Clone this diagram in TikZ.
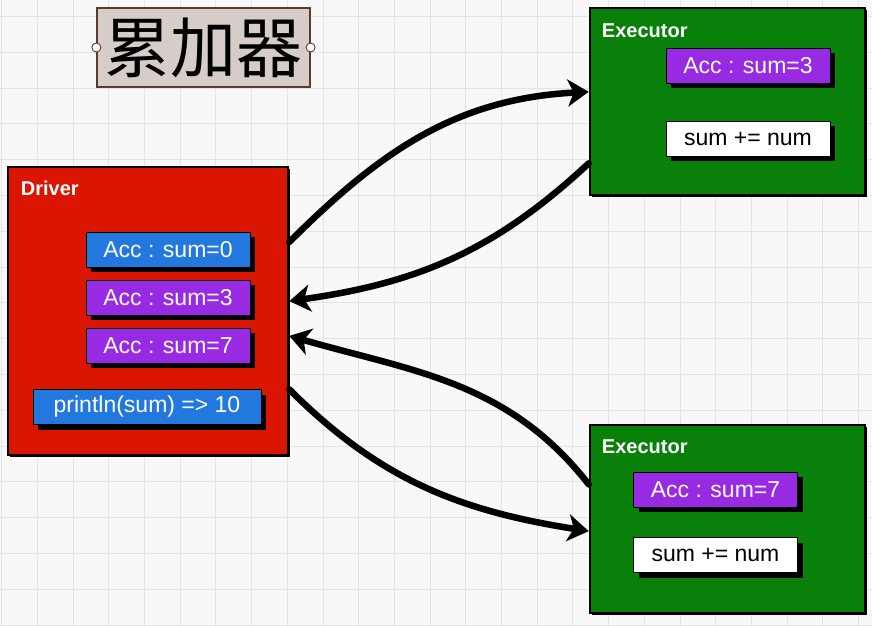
\documentclass[tikz,border=0pt]{standalone}
\usepackage{fontspec}
\setmainfont{Liberation Sans}
\newfontfamily\cjk{Noto Sans CJK SC}
\usetikzlibrary{arrows.meta,positioning,shadows}

\definecolor{drvred}{RGB}{218,22,0}
\definecolor{exgreen}{RGB}{8,128,10}
\definecolor{accblue}{RGB}{34,120,222}
\definecolor{accpurple}{RGB}{152,42,228}
\definecolor{titlefill}{RGB}{214,205,200}
\definecolor{titleline}{RGB}{95,55,45}
\definecolor{paper}{RGB}{248,248,248}
\definecolor{gridgray}{RGB}{228,228,228}

\tikzset{
  gridln/.style={draw=gridgray, line width=1pt},
  titlebox/.style={draw=titleline, fill=titlefill, line width=1.2pt, minimum width=213pt,
    minimum height=79pt, inner sep=0pt, font=\cjk\fontsize{66}{68}\selectfont},
  handle/.style={circle, draw=titleline, fill=white, line width=0.9pt, inner sep=0pt, minimum size=9pt},
  panel/.style={draw=black, line width=2.5pt, inner sep=0pt,
    drop shadow={fill=black, opacity=1, shadow xshift=2pt, shadow yshift=-2pt}},
  panellbl/.style={text=white, font=\bfseries\fontsize{20}{24}\selectfont, inner sep=0pt, anchor=north west},
  accbox/.style={draw=black, line width=1pt, text=white, font=\fontsize{23}{27}\selectfont,
    minimum width=164pt, minimum height=35pt, inner sep=0pt,
    drop shadow={fill=black, opacity=1, shadow xshift=5pt, shadow yshift=-5pt}},
  flow/.style={line width=6.5pt, line cap=round}
}

\begin{document}
\begin{tikzpicture}[x=1pt, y=-1pt, >={Stealth[length=21pt,width=27pt,inset=6pt]}, node distance=48pt, on grid]
  % paper with grid
  \fill[paper] (0,0) rectangle (872,625);
  \useasboundingbox (0,0) rectangle (872,625);
  \foreach \gx in {0,...,24}
    \draw[gridln] ({1.7+35.7*\gx},0) -- ({1.7+35.7*\gx},625);
  \foreach \gy in {0,...,17}
    \draw[gridln] (0,{16.4+35.8*\gy}) -- (872,{16.4+35.8*\gy});

  % title
  \node[titlebox] (title) at (203.5,47.5) {累加器};
  \node[handle] (hw) at (title.west) {};
  \node[handle] (he) at (title.east) {};

  % driver
  \node[panel, fill=drvred, minimum width=280pt, minimum height=288pt] (drv) at (148,311) {};
  \node[panellbl] (drvlbl) at ([shift={(14pt,-15pt)}]drv.north west) {Driver};
  \node[accbox, fill=accblue] (dsum0) at (168,249.5) {Acc : sum=0};
  \node[accbox, fill=accpurple] (dsum3) [below=of dsum0] {Acc : sum=3};
  \node[accbox, fill=accpurple] (dsum7) [below=of dsum3] {Acc : sum=7};
  \node[accbox, fill=accblue, minimum width=228pt] (dprint) at (147,407) {println(sum) => 10};

  % executors
  \node[panel, fill=exgreen, minimum width=275pt, minimum height=187pt] (extop) at (727.5,101.5) {};
  \node[panellbl] (extoplbl) at ([shift={(13pt,-17pt)}]extop.north west) {Executor};
  \node[accbox, fill=accpurple] (esum3) at (748,65.5) {Acc : sum=3};
  \node[accbox, fill=white, text=black] (eadd) [below=73pt of esum3] {sum += num};

  \node[panel, fill=exgreen, minimum width=275pt, minimum height=188pt] (exbot) at (727.5,519) {};
  \node[panellbl] (exbotlbl) at ([shift={(13pt,-16pt)}]exbot.north west) {Executor};
  \node[accbox, fill=accpurple] (bsum7) at (715.5,489.5) {Acc : sum=7};
  \node[accbox, fill=white, text=black] (badd) [below=65.5pt of bsum7] {sum += num};

  \path[->, flow]
    (drv.26) edge[out=45, in=183] (extop.176)
    (extop.204) edge[out=223, in=8] (drv.4)
    (exbot.166) edge[out=128, in=-16] (drv.-10)
    (drv.-29) edge[out=-45, in=171] (exbot.185);
\end{tikzpicture}
\end{document}
